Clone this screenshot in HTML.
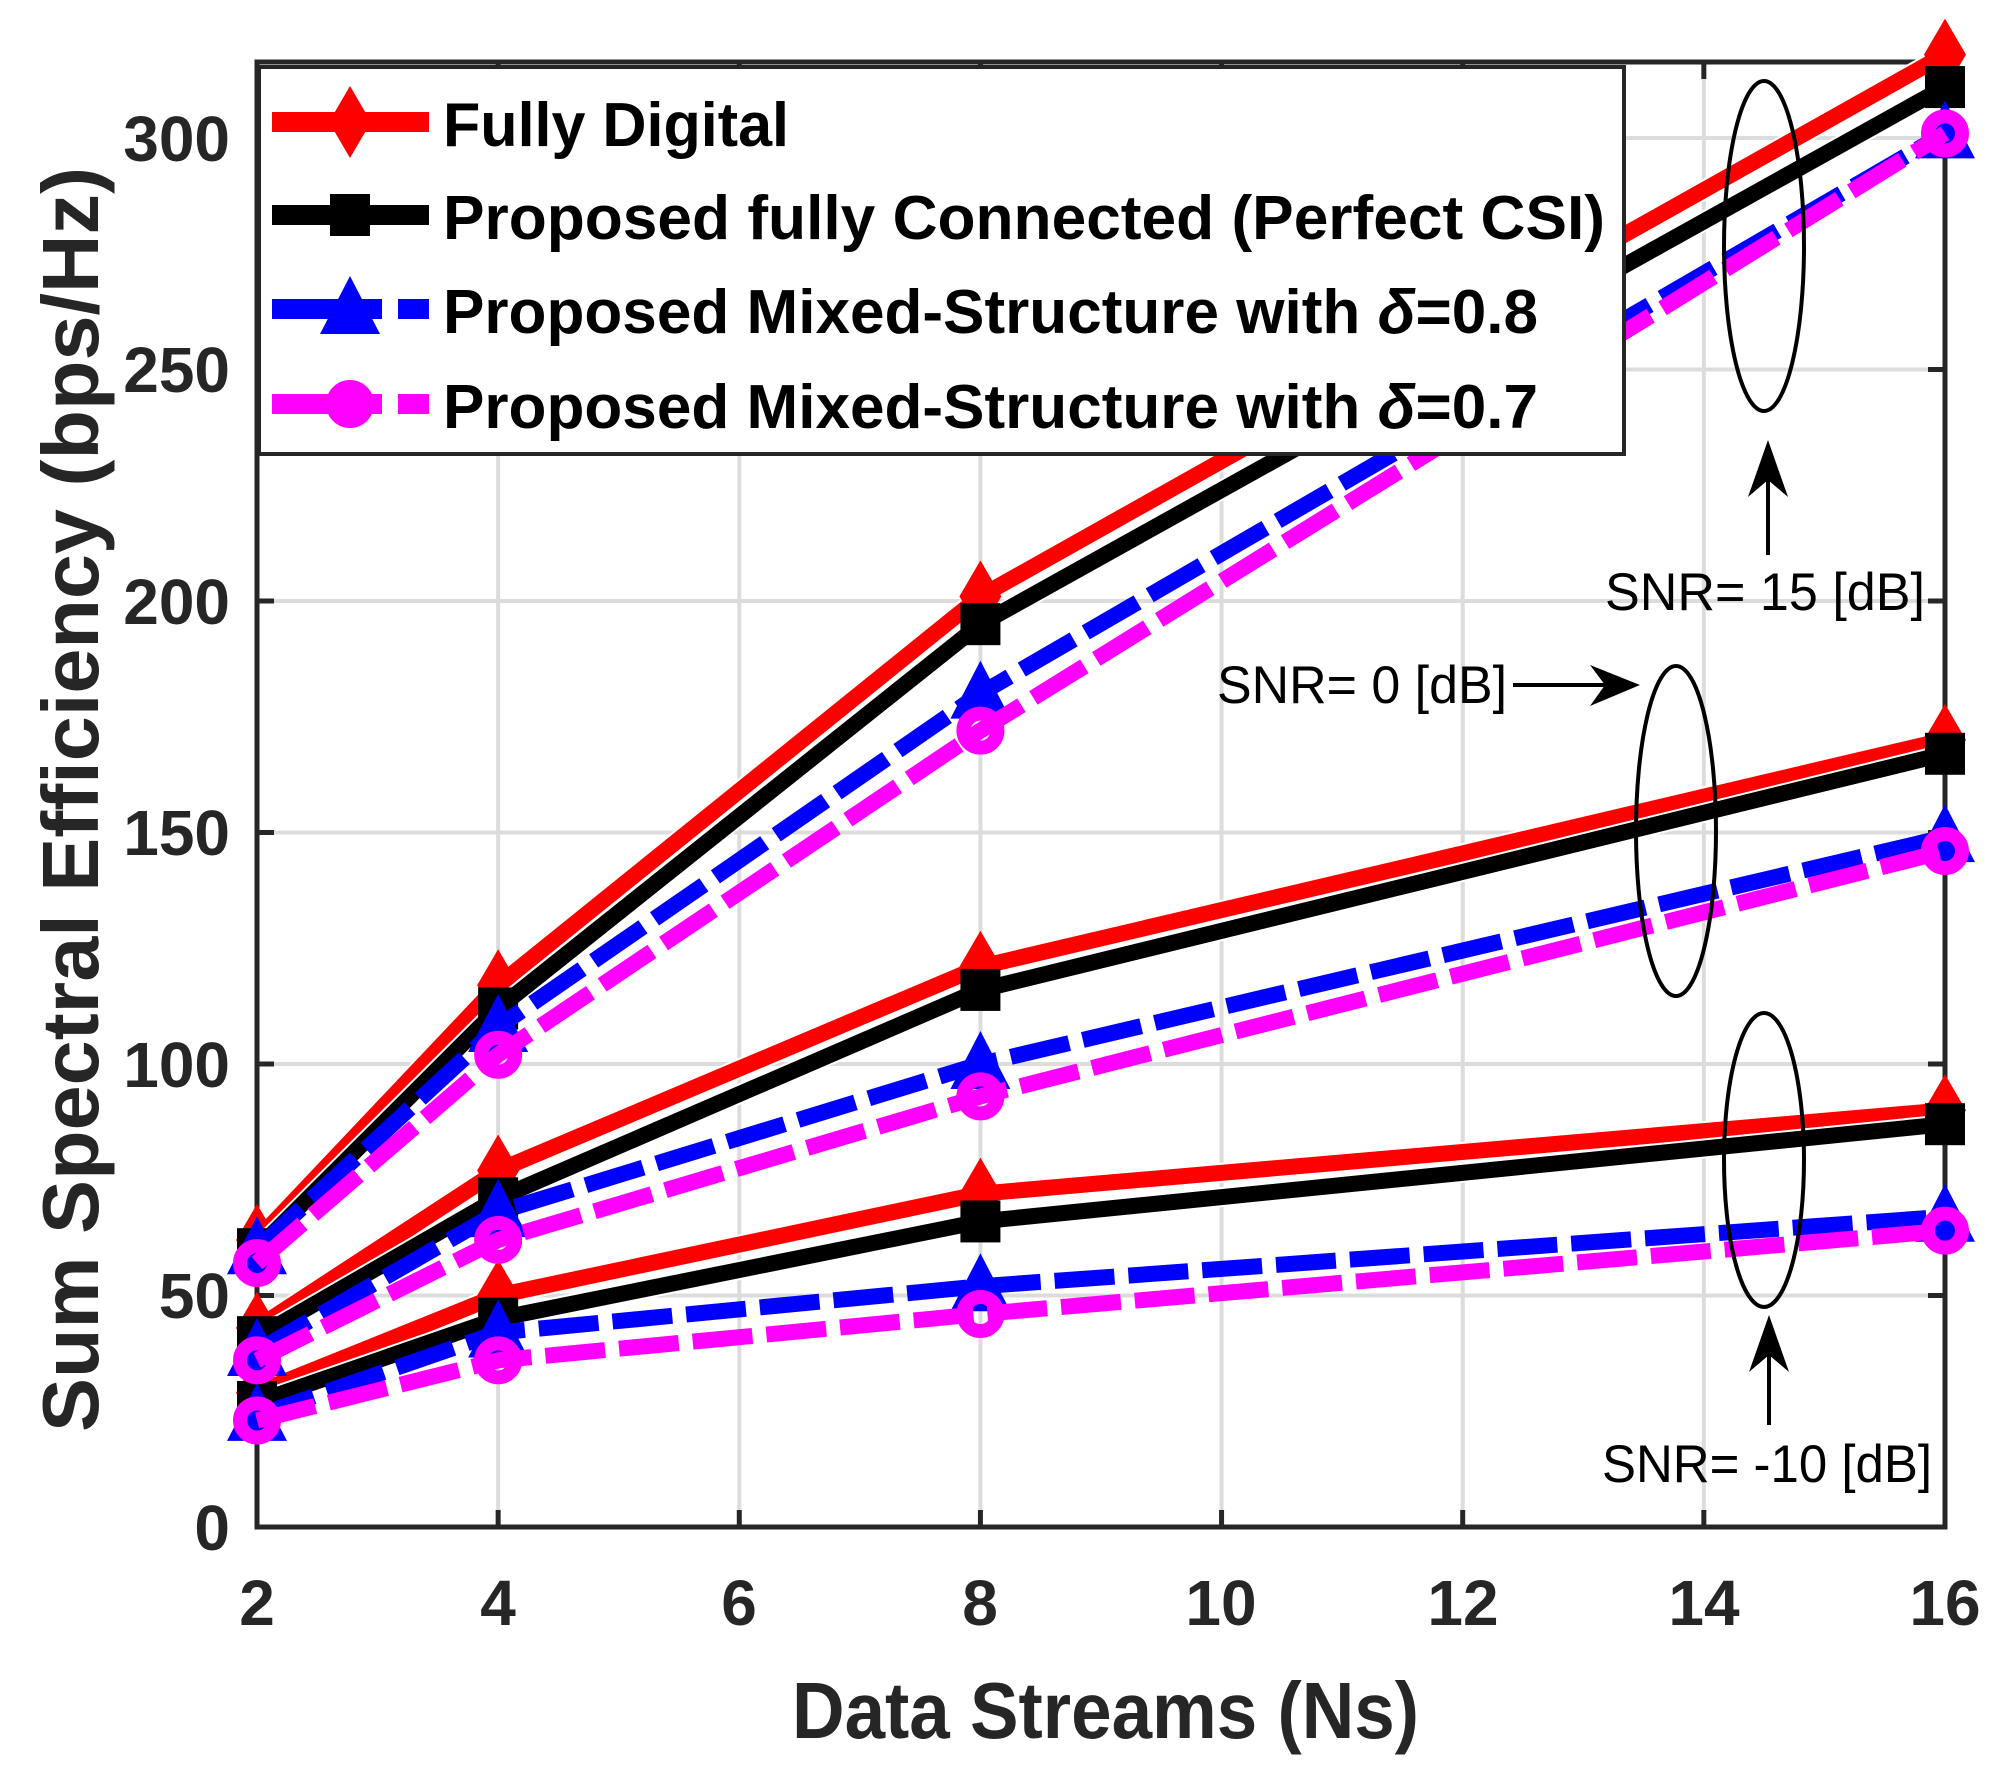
<!DOCTYPE html>
<html><head><meta charset="utf-8"><style>
html,body{margin:0;padding:0;background:#fff;}
svg{display:block;}
</style></head><body>
<svg id="s" width="2003" height="1776" viewBox="0 0 2003 1776" xmlns="http://www.w3.org/2000/svg">
<rect width="2003" height="1776" fill="#fff"/>
<g id="grid" stroke="#dcdcdc" stroke-width="4"></g>
<g id="axes"></g>
<g id="series"></g>
<g font-family="Liberation Sans, sans-serif" font-weight="bold" font-size="64" fill="#262626">
<text x="230" y="1550" text-anchor="end">0</text>
<text x="230" y="1318" text-anchor="end">50</text>
<text x="230" y="1087" text-anchor="end">100</text>
<text x="230" y="855" text-anchor="end">150</text>
<text x="230" y="624" text-anchor="end">200</text>
<text x="230" y="392" text-anchor="end">250</text>
<text x="230" y="161" text-anchor="end">300</text>
<text x="257" y="1625" text-anchor="middle">2</text>
<text x="498" y="1625" text-anchor="middle">4</text>
<text x="739" y="1625" text-anchor="middle">6</text>
<text x="980" y="1625" text-anchor="middle">8</text>
<text x="1221" y="1625" text-anchor="middle">10</text>
<text x="1463" y="1625" text-anchor="middle">12</text>
<text x="1704" y="1625" text-anchor="middle">14</text>
<text x="1945" y="1625" text-anchor="middle">16</text>
<text x="792" y="1738" font-size="80" textLength="627" lengthAdjust="spacingAndGlyphs">Data Streams (Ns)</text>
<text transform="translate(98,1432) rotate(-90)" font-size="80" textLength="1265" lengthAdjust="spacingAndGlyphs">Sum Spectral Efficiency (bps/Hz)</text>
</g>
<g fill="none" stroke="#000" stroke-width="4">
<ellipse cx="1764" cy="246" rx="40" ry="165"/>
<ellipse cx="1676" cy="831" rx="40" ry="165"/>
<ellipse cx="1764" cy="1160" rx="40" ry="147"/>
<line x1="1768" y1="555" x2="1768" y2="470"/>
<line x1="1513" y1="685" x2="1610" y2="685"/>
<line x1="1769" y1="1425" x2="1769" y2="1340"/>
</g>
<g fill="#000">
<path d="M1768,440 L1788,497 L1768,480 L1748,497 Z"/>
<path d="M1640,685 L1590,665 L1605,685 L1590,706 Z"/>
<path d="M1769,1315 L1789,1372 L1769,1355 L1749,1372 Z"/>
</g>
<g font-family="Liberation Sans, sans-serif" font-size="53" fill="#000">
<text x="1605" y="610" textLength="320" lengthAdjust="spacingAndGlyphs">SNR= 15 [dB]</text>
<text x="1217" y="703" textLength="290" lengthAdjust="spacingAndGlyphs">SNR= 0 [dB]</text>
<text x="1602" y="1482" textLength="330" lengthAdjust="spacingAndGlyphs">SNR= -10 [dB]</text>
</g>
<rect x="259" y="67" width="1365" height="387" fill="#fff" stroke="#262626" stroke-width="4"/>
<g id="leg"></g>
<g font-family="Liberation Sans, sans-serif" font-weight="bold" font-size="62" fill="#000">
<text x="443" y="146" textLength="346" lengthAdjust="spacingAndGlyphs">Fully Digital</text>
<text x="443" y="239" textLength="1162" lengthAdjust="spacingAndGlyphs">Proposed fully Connected (Perfect CSI)</text>
<text x="443" y="333" textLength="1095" lengthAdjust="spacingAndGlyphs">Proposed Mixed-Structure with <tspan font-style="italic">δ</tspan>=0.8</text>
<text x="443" y="428" textLength="1095" lengthAdjust="spacingAndGlyphs">Proposed Mixed-Structure with <tspan font-style="italic">δ</tspan>=0.7</text>
</g>
</svg>
<script>
var NS="http://www.w3.org/2000/svg";
function X(n){return 257+(n-2)*120.57;}
function Y(v){return 1527-v*4.63;}
function el(p,t,a){var e=document.createElementNS(NS,t);for(var k in a)e.setAttribute(k,a[k]);p.appendChild(e);return e;}
var g=document.getElementById('grid'),ax=document.getElementById('axes'),se=document.getElementById('series'),lg=document.getElementById('leg');
for(var n=4;n<16;n+=2)el(g,'line',{x1:X(n),y1:62,x2:X(n),y2:1527});
for(var v=50;v<=300;v+=50)el(g,'line',{x1:257,y1:Y(v),x2:1945,y2:Y(v)});
el(ax,'rect',{x:257,y:62,width:1688,height:1465,fill:'none',stroke:'#262626','stroke-width':5});
for(var n=4;n<16;n+=2){el(ax,'line',{x1:X(n),y1:1527,x2:X(n),y2:1510,stroke:'#262626','stroke-width':5});el(ax,'line',{x1:X(n),y1:62,x2:X(n),y2:79,stroke:'#262626','stroke-width':5});}
for(var v=50;v<=300;v+=50){el(ax,'line',{x1:257,y1:Y(v),x2:274,y2:Y(v),stroke:'#262626','stroke-width':5});el(ax,'line',{x1:1945,y1:Y(v),x2:1928,y2:Y(v),stroke:'#262626','stroke-width':5});}
var ns=[2,4,8,16];
var S=[
 {c:'#ff0000',m:'d',dash:null,d:[[62,117,201,318],[43,77,121,170],[29,50,72,90]]},
 {c:'#000000',m:'s',dash:null,d:[[60,112,195,311],[41,71,116,167],[27,45,66,87]]},
 {c:'#0000ff',m:'t',dash:'60,14',d:[[60,108,180,301],[38,68,100,149],[24,42,52,67]]},
 {c:'#ff00ff',m:'o',dash:'60,14',d:[[57,102,172,301],[36,62,93,146],[23,36,46,64]]}
];
function marker(p,m,x,y,c){
 if(m=='d')el(p,'path',{d:'M'+x+','+(y-36)+' L'+(x+21)+','+y+' L'+x+','+(y+36)+' L'+(x-21)+','+y+'Z',fill:c});
 else if(m=='s')el(p,'rect',{x:x-20,y:y-21,width:40,height:42,fill:c});
 else if(m=='t')el(p,'path',{d:'M'+x+','+(y-33)+' L'+(x+30)+','+(y+25)+' L'+(x-30)+','+(y+25)+'Z',fill:c});
 else el(p,'circle',{cx:x,cy:y,r:17,fill:'none',stroke:c,'stroke-width':14});
}
S.forEach(function(s){
 s.d.forEach(function(arr){
  var pts=arr.map(function(v,i){return X(ns[i])+','+Y(v);}).join(' ');
  if(!s.dash)el(se,'polyline',{points:pts,fill:'none',stroke:'#fff','stroke-width':20,'stroke-linejoin':'miter'});
  var a={points:pts,fill:'none',stroke:s.c,'stroke-width':16};
  if(s.dash){a['stroke-dasharray']=s.dash;}
  el(se,'polyline',a);
  arr.forEach(function(v,i){marker(se,s.m,X(ns[i]),Y(v),s.c);});
 });
});
var ly=[122,215,309,404];
S.forEach(function(s,i){
 var a={x1:272,y1:ly[i],x2:429,y2:ly[i],stroke:s.c,'stroke-width':20};
 if(s.dash)a['stroke-dasharray']='110,16,40';
 el(lg,'line',a);
 marker(lg,s.m,350,ly[i],s.c);
});
</script>
</body></html>
